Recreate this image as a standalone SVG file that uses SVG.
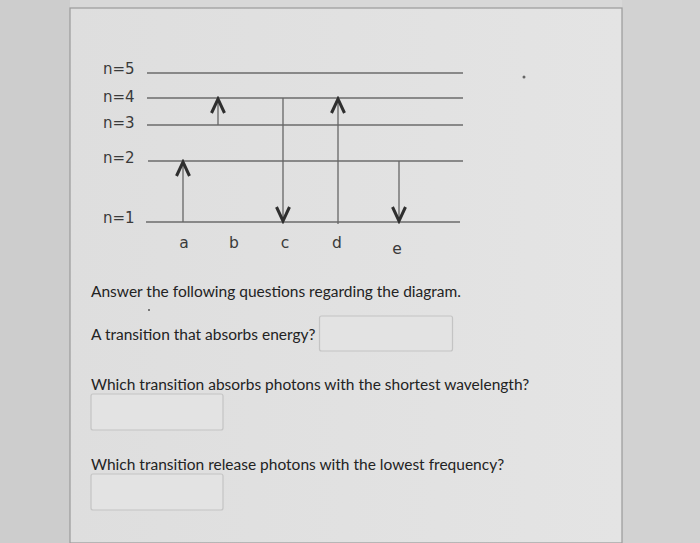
<svg xmlns="http://www.w3.org/2000/svg" width="700" height="543" viewBox="0 0 700 543">
<defs>
<linearGradient id="pg" x1="0" y1="0" x2="1" y2="0">
<stop offset="0" stop-color="#dedede"/>
<stop offset="1" stop-color="#e4e4e4"/>
</linearGradient>
<marker id="chev" markerUnits="userSpaceOnUse" markerWidth="20" markerHeight="20" viewBox="-17 -10 20 20" refX="0" refY="0" orient="auto">
<path d="M-14,-6.5 L0,0 L-14,6.5" fill="none" stroke="#2f2f2f" stroke-width="3" stroke-linejoin="miter" stroke-linecap="butt"/>
</marker>
</defs>
<style>
.lvl{stroke:#6b6b6b;stroke-width:1.3;fill:none}
.tr{stroke:#666;stroke-width:1.3;fill:none;marker-end:url(#chev)}
.nl{font-family:"DejaVu Sans",sans-serif;font-size:15px;fill:#3a3a3a}
.ll{font-family:"DejaVu Sans",sans-serif;font-size:15.5px;fill:#3a3a3a;text-anchor:middle}
.q{font-family:Lato,"Liberation Sans",sans-serif;font-size:15.5px;fill:#232323}
.box{fill:#e3e3e3;stroke:#c4c4c4;stroke-width:1.2}
</style>
<rect width="700" height="543" fill="#d2d2d2"/>
<rect x="0" y="0" width="70" height="543" fill="#cdcdcd"/>
<rect x="70" y="0" width="552" height="8" fill="#d8d8d8"/>
<rect x="70" y="8" width="552" height="535" fill="url(#pg)" stroke="#9a9a9a" stroke-width="1.2"/>
<g id="levels">
<g id="n5"><line class="lvl" x1="147" y1="73" x2="463" y2="73"/><text class="nl" x="103" y="74">n=5</text></g>
<g id="n4"><line class="lvl" x1="147" y1="98" x2="463" y2="98"/><text class="nl" x="103" y="102">n=4</text></g>
<g id="n3"><line class="lvl" x1="147" y1="125" x2="463" y2="125"/><text class="nl" x="103" y="128">n=3</text></g>
<g id="n2"><line class="lvl" x1="148" y1="161" x2="463" y2="161"/><text class="nl" x="103" y="163">n=2</text></g>
<g id="n1"><line class="lvl" x1="146" y1="222" x2="460" y2="222"/><text class="nl" x="103" y="223">n=1</text></g>
</g>
<g id="connectors">
<path id="ta" class="tr" d="M183,222 L183,162"/>
<path id="tb" class="tr" d="M218,125 L218,99"/>
<path id="tc" class="tr" d="M283,98 L283,221"/>
<path id="td" class="tr" d="M338,224 L338,99"/>
<path id="te" class="tr" d="M399,161 L399,221"/>
</g>
<g id="labels">
<text class="ll" x="184" y="248">a</text>
<text class="ll" x="234" y="248">b</text>
<text class="ll" x="285" y="248">c</text>
<text class="ll" x="337" y="248">d</text>
<text class="ll" x="397" y="254">e</text>
</g>
<g id="questions">
<text class="q" x="91" y="297">Answer the following questions regarding the diagram.</text>
<text class="q" x="91" y="340">A transition that absorbs energy?</text>
<text class="q" x="91" y="390">Which transition absorbs photons with the shortest wavelength?</text>
<text class="q" x="91" y="470">Which transition release photons with the lowest frequency?</text>
</g>
<g id="box1"><rect class="box" x="319.5" y="316" width="133" height="35" rx="2"/></g>
<g id="box2"><rect class="box" x="91" y="394" width="132" height="36" rx="2"/></g>
<g id="box3"><rect class="box" x="91" y="474" width="132" height="36" rx="2"/></g>
<circle cx="149" cy="310" r="1" fill="#555"/>
<circle cx="524" cy="77" r="1.5" fill="#666"/>
</svg>
